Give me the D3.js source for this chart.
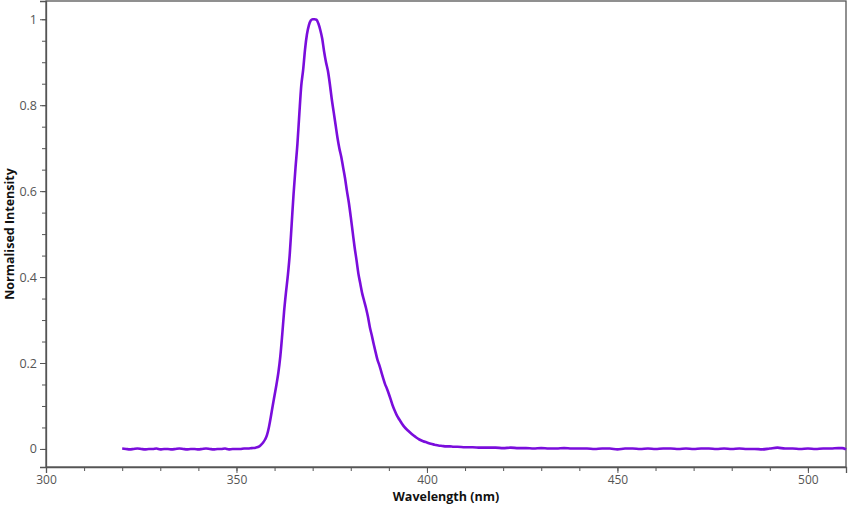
<!DOCTYPE html>
<html><head><meta charset="utf-8">
<script src="https://cdn.jsdelivr.net/npm/d3@7"></script>
<style>
body{margin:0;background:#fff;}
text{font-family:"Open Sans",sans-serif;}
</style></head>
<body><svg id="c" width="848" height="505"></svg>
<script>
const xTicks = [300, 350, 400, 450, 500];
const yTicks = [0, 0.2, 0.4, 0.6, 0.8, 1];
const xLabel = "Wavelength (nm)";
const yLabel = "Normalised Intensity";

const baseLeftWl = [320,321,322,323,324,325,326,327,328,329,330,331,332,333,334,335,336,337,338,339,340,341,342,343,344,345,346,347,348,349,350,351,352,353,354];
const baseLeftI  = [0.001,0.0,-0.001,0.0,0.001,0.0,-0.001,0.0,0.0,0.001,-0.001,0.0,0.0,-0.001,0.0,0.001,0.0,-0.001,0.0,0.0,-0.001,0.0,0.001,0.0,-0.001,0.0,0.0,0.001,-0.001,0.0,0.0,0.0,0.001,0.001,0.002];

const peakWl = [355,356,356.5,357,357.5,358,358.5,359,359.5,360,360.5,361,361.5,362,362.5,363,363.5,364,364.5,365,365.5,366,366.5,367,367.5,368,368.5,369,369.5,370,370.5,371,371.5,372,372.5,373,373.5,374,374.5,375,375.5,376,376.5,377,377.5,378,378.5,379,379.5,380,380.5,381,381.5,382,382.5,383,383.5,384,384.5,385,385.5,386,386.5,387,387.5,388,388.5,389,389.5,390,390.5,391,391.5,392,392.5,393,393.5,394,395,396,397,398,399,400,401,402,403,404,405,406,407];
const peakI  = [0.003,0.006,0.010,0.015,0.022,0.032,0.050,0.074,0.100,0.125,0.150,0.178,0.215,0.265,0.320,0.365,0.405,0.455,0.525,0.595,0.655,0.710,0.780,0.845,0.882,0.930,0.965,0.986,0.997,1.000,1.000,0.999,0.990,0.975,0.955,0.925,0.900,0.880,0.850,0.815,0.785,0.755,0.725,0.700,0.680,0.655,0.630,0.600,0.573,0.540,0.505,0.470,0.440,0.408,0.385,0.362,0.345,0.328,0.308,0.284,0.265,0.245,0.226,0.208,0.195,0.180,0.165,0.151,0.140,0.128,0.115,0.101,0.090,0.080,0.072,0.065,0.058,0.052,0.043,0.035,0.028,0.022,0.018,0.015,0.012,0.010,0.008,0.007,0.006,0.006,0.005];

const baseRightWl = [408,410,412,414,416,418,420,422,424,426,428,430,432,434,436,438,440,442,444,446,448,450,452,454,456,458,460,462,464,466,468,470,472,474,476,478,480,482,484,486,488,490,492,494,496,498,500,502,504,506,508,509,510];
const baseRightI  = [0.005,0.004,0.004,0.003,0.003,0.003,0.002,0.003,0.002,0.002,0.001,0.002,0.001,0.001,0.002,0.001,0.001,0.001,0.0,0.001,0.001,-0.001,0.001,0.001,0.0,0.001,0.0,0.001,0.001,0.0,0.001,0.0,0.001,0.001,0.0,0.001,0.0,0.001,0.0,0.0,-0.001,0.001,0.003,0.001,0.001,0.0,0.001,0.0,0.001,0.001,0.002,0.002,-0.001];

const wl = baseLeftWl.concat(peakWl, baseRightWl);
const inten = baseLeftI.concat(peakI, baseRightI);
const data = wl.map((w, i) => ({w, v: inten[i]}));

const svg = d3.select("#c");
const L = 46, R = 846, T = 1, B = 467;
const x = d3.scaleLinear().domain([300, 510]).range([L, R]);
const y = d3.scaleLinear().domain([-0.042, 1.0425]).range([B, T]);
const axisCol = "#555";

// frame
svg.append("rect").attr("x", L).attr("y", T).attr("width", R - L).attr("height", B - T)
  .attr("fill", "none").attr("stroke", axisCol).attr("stroke-width", 1.3);

// x axis
const xMinor = d3.range(300, 511, 10);
svg.append("g").attr("transform", `translate(0,${B})`)
  .call(d3.axisBottom(x).tickValues(xMinor).tickSize(4).tickFormat(""))
  .call(g => { g.select(".domain").remove(); g.selectAll("line").attr("stroke", axisCol); });
const gx = svg.append("g").attr("transform", `translate(0,${B})`)
  .call(d3.axisBottom(x).tickValues(xTicks).tickSize(6).tickPadding(2).tickFormat(d3.format("d")));
gx.select(".domain").attr("stroke", axisCol).attr("stroke-width", 1.3);
gx.selectAll("line").attr("stroke", axisCol);
gx.selectAll("text").attr("fill", "#555").attr("font-size", 12).attr("font-family", "Open Sans");

// y axis
const yMinor = d3.range(0, 21).map(i => i * 0.05);
svg.append("g").attr("transform", `translate(${L},0)`)
  .call(d3.axisLeft(y).tickValues(yMinor).tickSize(4).tickFormat(""))
  .call(g => { g.select(".domain").remove(); g.selectAll("line").attr("stroke", axisCol); });
const gy = svg.append("g").attr("transform", `translate(${L},0)`)
  .call(d3.axisLeft(y).tickValues(yTicks).tickSize(6).tickPadding(3).tickFormat(d => d === 0 || d === 1 ? d3.format("d")(d) : d3.format(".1f")(d)));
gy.select(".domain").attr("stroke", axisCol).attr("stroke-width", 1.3);
gy.selectAll("line").attr("stroke", axisCol);
gy.selectAll("text").attr("fill", "#555").attr("font-size", 12.5).attr("font-family", "Open Sans");

// titles
svg.append("text").attr("x", (L + R) / 2).attr("y", 501).attr("text-anchor", "middle")
  .attr("font-size", 12.5).attr("font-weight", "bold").attr("fill", "#111").text(xLabel);
svg.append("text").attr("transform", `translate(14,${(T + B) / 2}) rotate(-90)`).attr("text-anchor", "middle")
  .attr("font-size", 12.5).attr("font-weight", "bold").attr("fill", "#111").text(yLabel);

// line
svg.append("path").datum(data)
  .attr("fill", "none").attr("stroke", "#7a0ddc").attr("stroke-width", 2.6)
  .attr("stroke-linejoin", "round")
  .attr("d", d3.line().x(d => x(d.w)).y(d => y(d.v)).curve(d3.curveMonotoneX));
</script></body></html>
